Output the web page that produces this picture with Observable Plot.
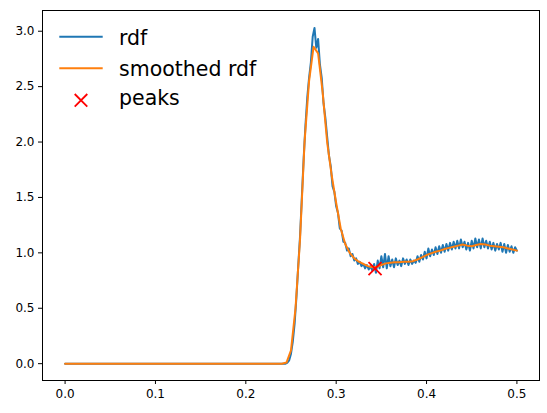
<!DOCTYPE html>
<html><head><meta charset="utf-8">
<script src="https://cdn.jsdelivr.net/npm/d3@7"></script>
<script src="https://cdn.jsdelivr.net/npm/@observablehq/plot@0.6"></script>
<style>html,body{margin:0;padding:0;background:#fff}</style>
</head><body><div id="chart"></div>
<script>
// ---- data ----
const flatX = [0.0, 0.240];            // rdf is zero up to the start of the rise
const flatY = [0.0, 0.0];
const rdfStart = 0.242, rdfStep = 0.002; // noisy rdf samples from 0.242 to 0.500
const rdfValues = [
  0.00,0.00,0.01,0.03,0.09,0.20,0.36,0.60,0.88,1.15,
  1.50,1.85,2.15,2.40,2.58,2.72,2.95,3.03,2.85,2.93,
  2.70,2.58,2.35,2.22,2.05,1.88,1.78,1.60,1.55,1.42,
  1.36,1.22,1.20,1.10,1.09,1.02,1.04,0.97,0.99,0.93,
  0.95,0.90,0.92,0.88,0.90,0.86,0.89,0.85,0.88,0.84,
  0.90,0.82,0.93,0.86,0.97,0.87,0.99,0.86,0.97,0.88,
  0.94,0.87,0.95,0.89,0.93,0.88,0.95,0.90,0.94,0.89,
  0.94,0.90,0.93,0.91,0.97,0.92,0.98,0.94,1.01,0.95,
  1.04,0.97,1.03,0.98,1.05,0.99,1.06,1.00,1.07,1.01,
  1.08,1.02,1.09,1.03,1.10,1.04,1.11,1.04,1.12,1.05,
  1.10,1.03,1.09,1.02,1.11,1.04,1.13,1.05,1.12,1.04,
  1.13,1.05,1.11,1.04,1.10,1.03,1.09,1.02,1.08,1.03,
  1.09,1.01,1.08,1.00,1.07,1.01,1.06,1.00,1.05,1.02
];
const smoothStart = 0.240, smoothStep = 0.005; // smoothed rdf from 0.240 to 0.500
const smoothValues = [
  0.00,0.01,0.12,0.50,1.12,2.00,2.55,2.86,2.80,2.45,
  2.00,1.70,1.45,1.22,1.08,1.00,0.95,0.92,0.90,0.88,
  0.87,0.875,0.89,0.905,0.91,0.915,0.915,0.92,0.92,0.925,
  0.94,0.96,0.98,0.995,1.01,1.02,1.035,1.045,1.055,1.065,
  1.075,1.065,1.06,1.07,1.08,1.075,1.065,1.06,1.055,1.05,
  1.04,1.03,1.02
];
const peakX = [0.343];
const peakY = [0.857];
const xTicks = [0.0, 0.1, 0.2, 0.3, 0.4, 0.5];
const yTicks = [0.0, 0.5, 1.0, 1.5, 2.0, 2.5, 3.0];
const legendLabels = ["rdf", "smoothed rdf", "peaks"];
const colors = ["#1f77b4", "#ff7f0e", "#ff0000"];

// ---- tables ----
const rdf = flatX.map((x, i) => ({x, y: flatY[i]}))
  .concat(rdfValues.map((v, i) => ({x: rdfStart + i * rdfStep, y: v})));
const smooth = [{x: 0, y: 0}]
  .concat(smoothValues.map((v, i) => ({x: smoothStart + i * smoothStep, y: v})));
const peaks = peakX.map((x, i) => ({x, y: peakY[i]}));

const font = "'DejaVu Sans', sans-serif";
const chart = Plot.plot({
  width: 547, height: 413,
  marginLeft: 42, marginRight: 8, marginTop: 10, marginBottom: 33,
  style: {fontFamily: font, fontSize: "12px", color: "black", background: "white"},
  x: {domain: [-0.025, 0.525], label: null},
  y: {domain: [-0.152, 3.187], label: null},
  marks: [
    Plot.line(rdf, {x: "x", y: "y", stroke: colors[0], strokeWidth: 2}),
    Plot.line(smooth, {x: "x", y: "y", stroke: colors[1], strokeWidth: 2}),
    Plot.dot(peaks, {x: "x", y: "y", symbol: "times", r: 6, stroke: colors[2], strokeWidth: 1.8}),
    Plot.frame({stroke: "black", strokeWidth: 1}),
    Plot.axisX({ticks: xTicks, tickFormat: d3.format(".1f"), tickSize: 4, tickPadding: 5, label: null}),
    Plot.axisY({ticks: yTicks, tickFormat: d3.format(".1f"), tickSize: 4, tickPadding: 4, label: null})
  ]
});
document.getElementById("chart").appendChild(chart);

// ---- legend (no frame) ----
const svg = d3.select(chart);
const g = svg.append("g").attr("font-family", font).attr("font-size", "20.5px")
  .attr("text-anchor", "start");
const rowY = [36.7, 68.3, 100.3];
const baseY = [45.3, 75.5, 105];
legendLabels.forEach((label, i) => {
  if (i < 2) {
    g.append("line").attr("x1", 59.3).attr("x2", 102.7).attr("y1", rowY[i]).attr("y2", rowY[i])
      .attr("stroke", colors[i]).attr("stroke-width", 2);
  } else {
    const s = 6.3;
    g.append("path")
      .attr("d", `M${81 - s},${rowY[i] - s}L${81 + s},${rowY[i] + s}M${81 - s},${rowY[i] + s}L${81 + s},${rowY[i] - s}`)
      .attr("stroke", colors[i]).attr("stroke-width", 1.8).attr("fill", "none");
  }
  g.append("text").attr("x", 119).attr("y", baseY[i]).attr("fill", "black")
    .attr("text-anchor", "start").text(label);
});
</script>
</body></html>
